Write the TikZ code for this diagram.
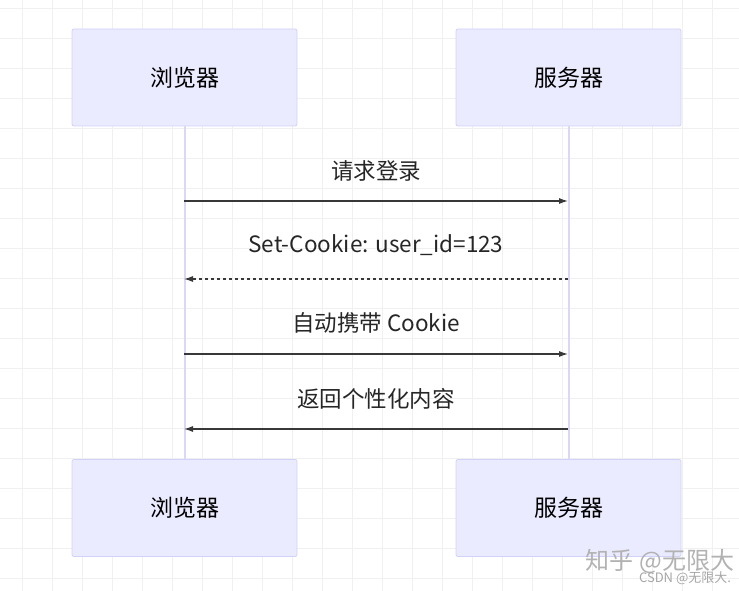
\documentclass[tikz,border=0pt]{standalone}
\usepackage{fontspec}
\setmainfont{Noto Sans CJK SC}
\begin{document}
\begin{tikzpicture}[x=1pt,y=-1pt,
 actor/.style={draw=black!10!blue!18!white, fill=blue!8!white, rounded corners=2pt, minimum width=225pt, minimum height=97pt, font=\fontsize{23}{26}\selectfont, line width=0.8pt},
 msg/.style={line width=1.1pt, draw=black!78, -{Latex[length=9pt,width=6pt]}},
 lbl/.style={font=\fontsize{22.5}{26}\selectfont, text=black!85}]
\usetikzlibrary{arrows.meta}
\path[use as bounding box] (0,0) rectangle (739,591);
\foreach \x in {22,52,...,739} \draw[black!6,line width=0.7pt] (\x,0)--(\x,591);
\foreach \y in {8,38,...,591} \draw[black!6,line width=0.7pt] (0,\y)--(739,\y);
\node[actor] (b1) at (184.5,77.5) {浏览器};
\node[actor] (s1) at (568.5,77.5) {服务器};
\node[actor] (b2) at (184.5,508) {浏览器};
\node[actor] (s2) at (568.5,508) {服务器};
\draw[black!20!blue!15!white, line width=2pt] (b1.south)--(b2.north);
\draw[black!20!blue!15!white, line width=2pt] (s1.south)--(s2.north);
\coordinate (bl1) at (184,201); \coordinate (sl1) at (568,201);
\coordinate (bl2) at (184,279); \coordinate (sl2) at (568,279);
\coordinate (bl3) at (184,354); \coordinate (sl3) at (568,354);
\coordinate (bl4) at (184,429); \coordinate (sl4) at (568,429);
\draw[msg] (bl1)--(sl1);
\draw[msg, dash pattern=on 3pt off 3pt] (sl2)--(bl2);
\draw[msg] (bl3)--(sl3);
\draw[msg] (sl4)--(bl4);
\node[lbl] (t1) at (376,171) {请求登录};
\node[lbl] (t2) at (376,245) {Set-Cookie: user\_id=123};
\node[lbl] (t3) at (376,323) {自动携带 Cookie};
\node[lbl] (t4) at (376,399) {返回个性化内容};
\node[font=\fontsize{24}{26}\selectfont, text=black!30] (w1) at (660,561) {知乎 @无限大};
\node[font=\fontsize{13}{14}\selectfont, text=black!35] (w2) at (685,578) {CSDN @无限大.};
\end{tikzpicture}
\end{document}
